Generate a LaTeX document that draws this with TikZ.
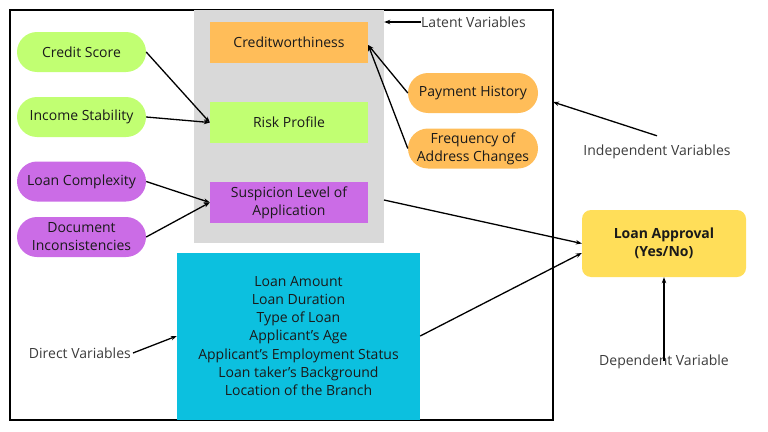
\documentclass[tikz,border=0pt]{standalone}
\usepackage{fontspec}
\setmainfont{Open Sans}
\usetikzlibrary{arrows.meta,shapes.misc}
\definecolor{corange}{HTML}{FFBD59}
\definecolor{cgreen}{HTML}{C1FF72}
\definecolor{cpurple}{HTML}{CB6CE6}
\definecolor{ccyan}{HTML}{0CC0DF}
\definecolor{cyellow}{HTML}{FFDE59}
\definecolor{cgray}{HTML}{D9D9D9}
\definecolor{ctext}{HTML}{1A1A1A}
\begin{document}
\begin{tikzpicture}[x=1pt,y=-1pt,
  every node/.style={font=\fontsize{14}{18}\selectfont, text=ctext},
  latbox/.style={rectangle, minimum width=158pt, minimum height=41pt, inner sep=0pt, align=center, font=\fontsize{14}{18}\selectfont},
  pill/.style={rounded rectangle, minimum width=129pt, minimum height=40pt, inner sep=0pt, align=center, font=\fontsize{14}{18}\selectfont},
  conn/.style={-{Stealth[length=6pt,width=4.5pt]}, line width=1.3pt, black},
  lbl/.style={inner sep=0pt, text=ctext!85}
]
\useasboundingbox (0,0) rectangle (768,431);
% outer frame
\node[draw=black, line width=1.8pt, minimum width=543pt, minimum height=410pt, inner sep=0pt] (frame) at (281.5,215) {};
% latent grey area
\node[fill=cgray, minimum width=190pt, minimum height=233pt, inner sep=0pt] (latent) at (289,126.5) {};
% direct variables box
\node[fill=ccyan, minimum width=243pt, minimum height=167pt, inner sep=0pt, align=center,
      font=\fontsize{14}{18.3}\selectfont] (direct) at (298.5,336)
  {Loan Amount\\Loan Duration\\Type of Loan\\Applicant’s Age\\Applicant’s Employment Status\\Loan taker’s Background\\Location of the Branch};
% latent boxes
\node[latbox, fill=corange] (cw) at (289,42.5) {Creditworthiness};
\node[latbox, fill=cgreen] (rp) at (289,122.5) {Risk Profile};
\node[latbox, fill=cpurple] (sl) at (289,202.5) {Suspicion Level of\\Application};
% indicator pills
\node[pill, fill=cgreen] (cs) at (81.5,52) {Credit Score};
\node[pill, fill=cgreen] (is) at (81.5,117) {Income Stability};
\node[pill, fill=cpurple] (lc) at (81.5,181.5) {Loan Complexity};
\node[pill, fill=cpurple] (di) at (81.5,237) {Document\\Inconsistencies};
\node[pill, fill=corange, minimum width=130pt] (ph) at (473,93) {Payment History};
\node[pill, fill=corange, minimum width=130pt] (fa) at (473,148.5) {Frequency of\\Address Changes};
% dependent
\node[fill=cyellow, rounded corners=9pt, minimum width=164pt, minimum height=67pt, inner sep=0pt, align=center,
      font=\fontsize{14}{18}\selectfont\bfseries] (la) at (664,243.5) {Loan Approval\\(Yes/No)};
% labels
\node[lbl, anchor=west] (lv) at (421,22) {Latent Variables};
\node[lbl] (iv) at (657,152) {Independent Variables};
\node[lbl, anchor=east] (dv) at (131,353) {Direct Variables};
\node[lbl] (dep) at (664,362) {Dependent Variable};
\coordinate (frpt) at (553,102);
\coordinate (slout) at (384,200);
% connectors
\draw[conn] (cs.east) -- (rp.west);
\draw[conn] (is.east) -- (rp.west);
\draw[conn] (lc.east) -- (sl.west);
\draw[conn] (di.east) -- (sl.west);
\draw[conn] (ph.west) -- ([yshift=-2.5pt]cw.east);
\draw[conn] (fa.west) -- ([yshift=-2.5pt]cw.east);
\draw[conn] (slout) -- (la.west);
\draw[conn] (direct.east) -- ([yshift=-9.5pt]la.west);
\draw[conn] (lv.west) -- (latent.east |- lv.west);
\draw[conn] ([yshift=9pt]iv.north) -- (frpt);
\draw[conn] ([xshift=2pt]dv.east) -- (direct.west);
\draw[conn] ([yshift=-6pt]dep.north) -- (la.south);
\end{tikzpicture}
\end{document}
